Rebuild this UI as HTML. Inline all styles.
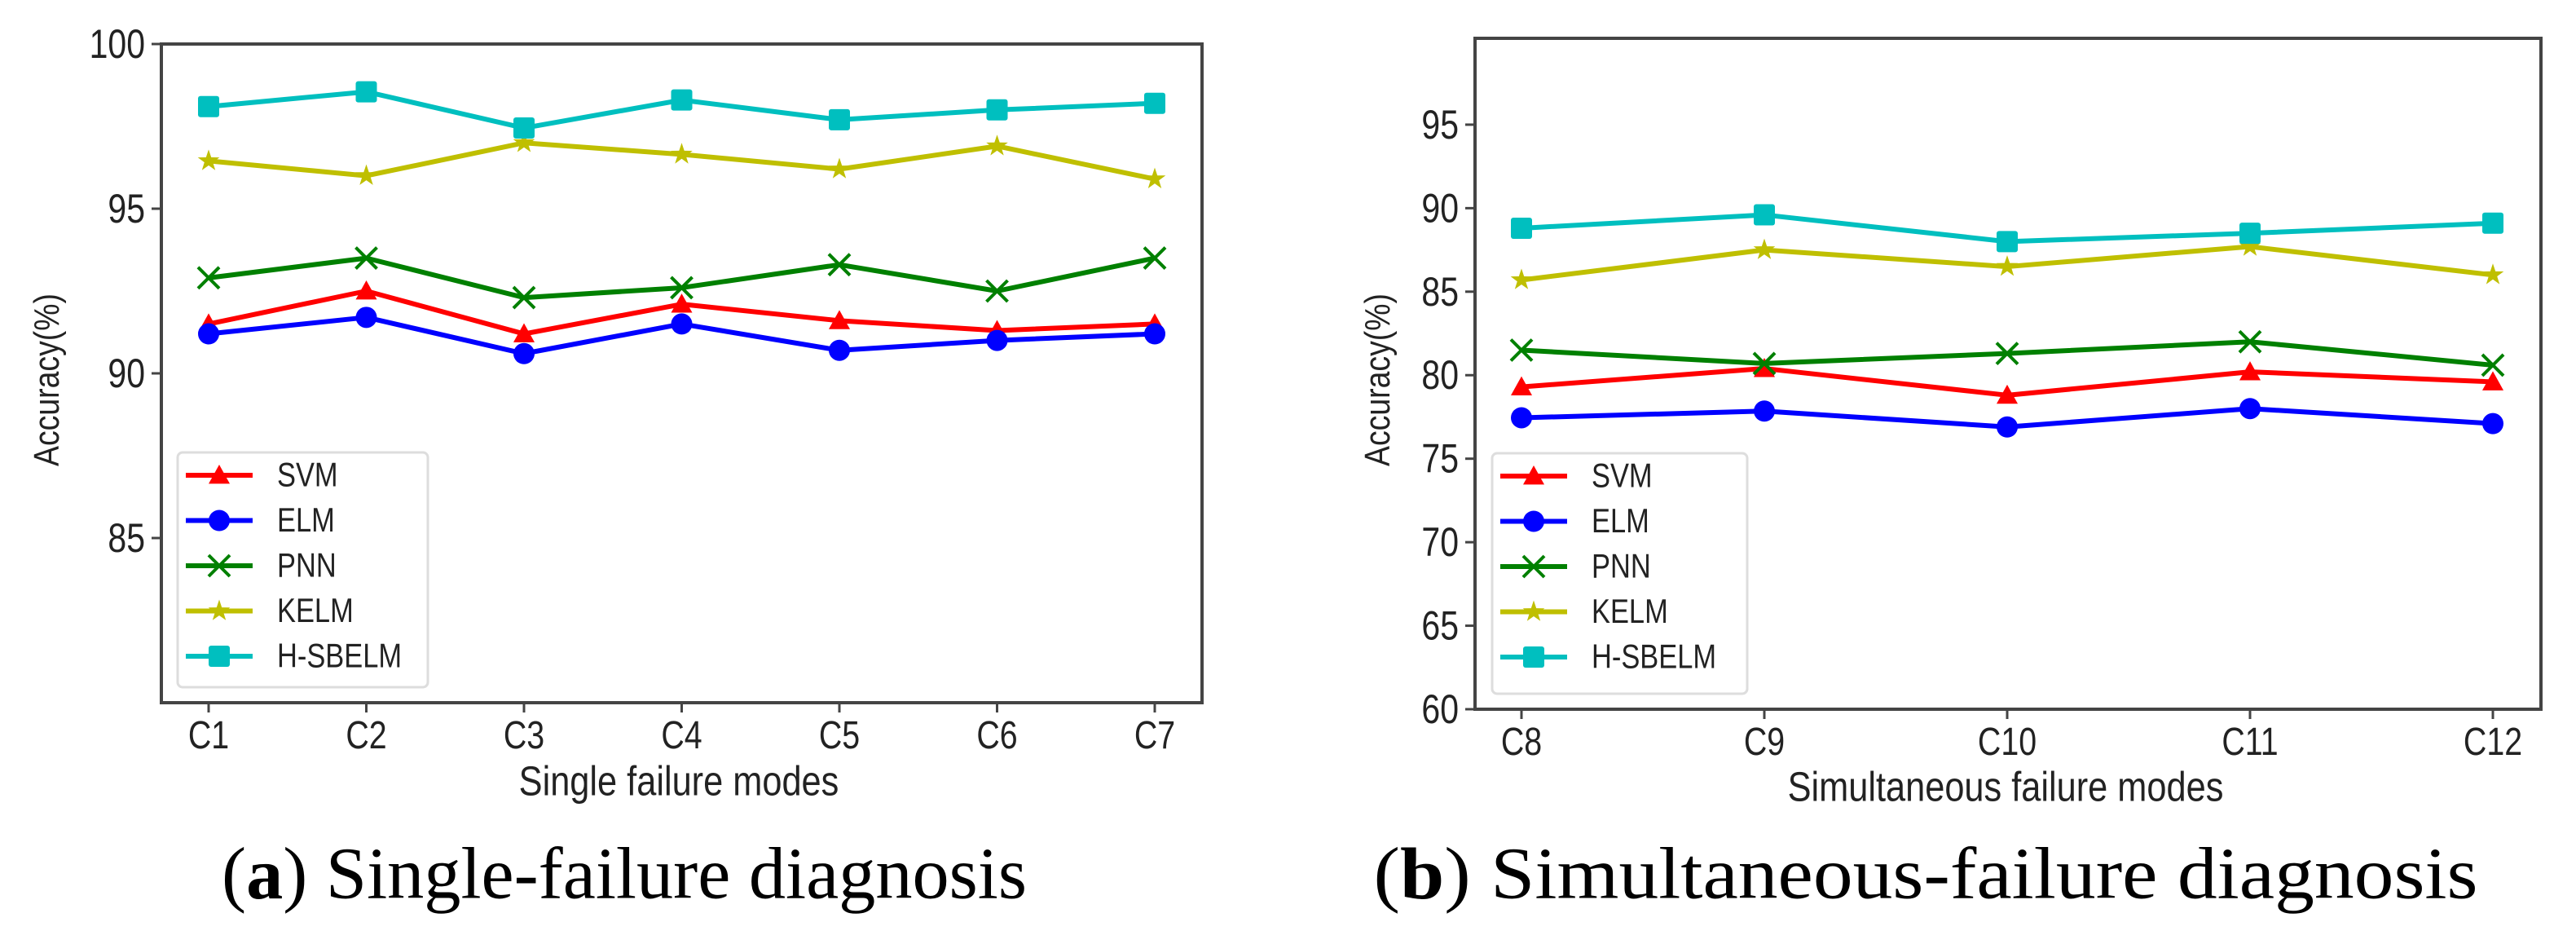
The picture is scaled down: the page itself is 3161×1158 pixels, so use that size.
<!DOCTYPE html>
<html><head><meta charset="utf-8"><style>html,body{margin:0;padding:0;background:#fff}svg{display:block}</style></head>
<body>
<svg id="fig" xmlns="http://www.w3.org/2000/svg" width="3161" height="1158" viewBox="0 0 3161 1158">
<rect width="3161" height="1158" fill="#fff"/>
</svg>
<script>
const seriesNames = ["SVM","ELM","PNN","KELM","H-SBELM"];
const seriesColors = ["#ff0000","#0000ff","#008000","#bfbf00","#00bfbf"];
const seriesMarkers = ["tri","circle","x","star","square"];
// Panel (a)
const catsA = ["C1","C2","C3","C4","C5","C6","C7"];
const svmA = [91.5,92.5,91.2,92.1,91.6,91.3,91.5];
const elmA = [91.2,91.7,90.6,91.5,90.7,91.0,91.2];
const pnnA = [92.9,93.5,92.3,92.6,93.3,92.5,93.5];
const kelmA = [96.45,96.0,97.0,96.65,96.2,96.9,95.9];
const hsbA = [98.1,98.55,97.45,98.3,97.7,98.0,98.2];
const ticksA = [85,90,95,100];
// Panel (b)
const catsB = ["C8","C9","C10","C11","C12"];
const svmB = [79.3,80.4,78.8,80.2,79.6];
const elmB = [77.45,77.85,76.9,78.0,77.1];
const pnnB = [81.5,80.7,81.3,82.0,80.6];
const kelmB = [85.7,87.5,86.5,87.7,86.0];
const hsbB = [88.8,89.6,88.0,88.5,89.1];
const ticksB = [60,65,70,75,80,85,90,95];

const NS="http://www.w3.org/2000/svg";
const svg=document.getElementById('fig');
function el(tag,attrs,parent){const e=document.createElementNS(NS,tag);for(const k in attrs)e.setAttribute(k,attrs[k]);(parent||svg).appendChild(e);return e;}
function txt(x,y,s,size,anchor,parent,sx,font,rot){
  const g=el('g',{transform:`translate(${x},${y})`+(rot?` rotate(${rot})`:'')+` scale(${sx},1)`},parent);
  const t=el('text',{x:0,y:0,'font-size':size,'text-anchor':anchor,'dominant-baseline':'central','font-family':font||'"Liberation Sans", sans-serif',fill:'#222'},g);
  t.textContent=s;return t;}
function marker(type,x,y,c,g){
  const s=13;
  if(type==='tri') return el('polygon',{points:`${x},${y-s} ${x+s},${y+s*0.8} ${x-s},${y+s*0.8}`,fill:c},g);
  if(type==='circle') return el('circle',{cx:x,cy:y,r:s,fill:c},g);
  if(type==='square') return el('rect',{x:x-s,y:y-s,width:2*s,height:2*s,rx:3,fill:c},g);
  if(type==='x') return el('path',{d:`M${x-s} ${y-s}L${x+s} ${y+s}M${x-s} ${y+s}L${x+s} ${y-s}`,stroke:c,'stroke-width':4,fill:'none'},g);
  if(type==='star'){let p=[];for(let i=0;i<10;i++){const r=i%2?5.5:14;const a=-Math.PI/2+i*Math.PI/5;p.push((x+r*Math.cos(a)).toFixed(1)+','+(y+r*Math.sin(a)).toFixed(1));}return el('polygon',{points:p.join(' '),fill:c},g);}
}
function panel(cfg){
  const g=el('g',{});
  
  
  const X=i=>cfg.x0+i*(cfg.x1-cfg.x0)/(cfg.cats.length-1);
  const Y=v=>cfg.T+(cfg.yMax-v)*(cfg.B-cfg.T)/(cfg.yMax-cfg.yMin);
  cfg.series.forEach((vals,si)=>{
    const sg=el('g',{},g);
    
    
    el('polyline',{points:vals.map((v,i)=>X(i)+','+Y(v)).join(' '),fill:'none',stroke:seriesColors[si],'stroke-width':6,'stroke-linejoin':'round'},sg);
    vals.forEach((v,i)=>{const m=marker(seriesMarkers[si],X(i),Y(v),seriesColors[si],sg);
      
      });
  });
  const fr=el('rect',{x:cfg.L,y:cfg.T,width:cfg.R-cfg.L,height:cfg.B-cfg.T,fill:'none',stroke:'#444','stroke-width':4},g);
  
  
  cfg.ticks.forEach(v=>{const y=Y(v);el('line',{x1:cfg.L-12,x2:cfg.L,y1:y,y2:y,stroke:'#444','stroke-width':3},g);
    const t=txt(cfg.L-20,y,String(v),50,'end',g,0.82);
    
    });
  cfg.cats.forEach((c,i)=>{const x=X(i);el('line',{x1:x,x2:x,y1:cfg.B,y2:cfg.B+12,stroke:'#444','stroke-width':3},g);
    const t=txt(x,cfg.B+40,c,48,'middle',g,0.82);
    
    });
  const xt=txt(cfg.xtX,cfg.xtY,cfg.xTitle,51,'middle',g,0.85);
  
  
  const yt=txt(cfg.ytX,466,'Accuracy(%)',44,'middle',g,0.85,null,-90);
  
  
  const lg=el('g',{},g);
  
  
  el('rect',{x:cfg.lx,y:cfg.ly,width:cfg.lw,height:cfg.lh,rx:6,fill:'#fff',stroke:'#ddd','stroke-width':3},lg);
  seriesNames.forEach((n,si)=>{const y=cfg.ly+28+si*55.5;
    const eg=el('g',{},lg);
    
    
    el('line',{x1:cfg.lx+10,x2:cfg.lx+92,y1:y,y2:y,stroke:seriesColors[si],'stroke-width':6},eg);
    marker(seriesMarkers[si],cfg.lx+51,y,seriesColors[si],eg);
    txt(cfg.lx+122,y,n,42,'start',eg,0.82);});
  const cap=el('text',{x:cfg.capX,y:1072,'font-size':90,'text-anchor':'middle','dominant-baseline':'central','font-family':'"Liberation Serif", serif',fill:'#000',textLength:cfg.capW,lengthAdjust:'spacingAndGlyphs'},svg);
  
  
  cap.innerHTML='(<tspan font-weight="bold">'+cfg.letter+'</tspan>) '+cfg.cap;
}
panel({name:'panel-a',cats:catsA,series:[svmA,elmA,pnnA,kelmA,hsbA],ticks:ticksA,
  L:198,R:1475,T:54,B:862,x0:256,x1:1417,yMin:80,yMax:100,
  xTitle:'Single failure modes',xtX:833,xtY:959,ytX:57,
  lx:218,ly:555,lw:307,lh:288,capX:766,capW:988,letter:'a',cap:'Single-failure diagnosis'});
panel({name:'panel-b',cats:catsB,series:[svmB,elmB,pnnB,kelmB,hsbB],ticks:ticksB,
  L:1810,R:3118,T:47,B:870,x0:1867,x1:3059,yMin:60,yMax:100.17,
  xTitle:'Simultaneous failure modes',xtX:2461,xtY:966,ytX:1690,
  lx:1831,ly:556,lw:313,lh:295,capX:2363,capW:1355,letter:'b',cap:'Simultaneous-failure diagnosis'});
</script>
</body></html>
